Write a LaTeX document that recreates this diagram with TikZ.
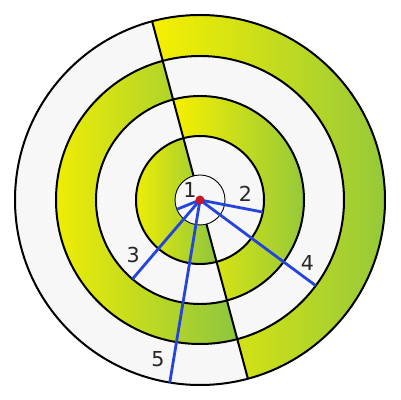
\documentclass[tikz,border=0pt]{standalone}
\usepackage{fontspec}
\setmainfont{DejaVu Sans}
\definecolor{ylw}{RGB}{247,240,0}
\definecolor{grn}{RGB}{141,198,63}
\definecolor{paper}{RGB}{247,247,247}
\definecolor{ray}{RGB}{37,68,220}
\definecolor{dot}{RGB}{200,24,36}
\begin{document}
\begin{tikzpicture}[x=0.5pt,y=0.5pt,
  band/.style={left color=ylw,right color=grn},
  ring/.style={draw=black,line width=1pt},
  thinring/.style={draw=black,line width=0.45pt},
  divider/.style={draw=black,line width=1pt},
  rayline/.style={draw=ray,line width=1.4pt},
  lbl/.style={font=\fontsize{10.3}{12}\selectfont,text=black!85,inner sep=0pt}]
\useasboundingbox (-200,-200) rectangle (200,200);
\fill[paper] (0,0) circle[radius=185];
% left half bands (105..285)
\path[band] (105:64) arc[start angle=105,end angle=285,radius=64] -- (285:25) arc[start angle=285,end angle=105,radius=25] -- cycle;
\path[band] (105:144) arc[start angle=105,end angle=285,radius=144] -- (285:104) arc[start angle=285,end angle=105,radius=104] -- cycle;
% right half bands (-75..105)
\path[band] (-75:104) arc[start angle=-75,end angle=105,radius=104] -- (105:64) arc[start angle=105,end angle=-75,radius=64] -- cycle;
\path[band] (-75:185) arc[start angle=-75,end angle=105,radius=185] -- (105:144) arc[start angle=105,end angle=-75,radius=144] -- cycle;
% circles
\draw[ring] (0,0) circle[radius=185];
\draw[ring] (0,0) circle[radius=144];
\draw[ring] (0,0) circle[radius=104];
\draw[ring] (0,0) circle[radius=64];
\draw[thinring] (0,0) circle[radius=25];
% divider
\coordinate (dta) at (105:25);
\coordinate (dtb) at (105:185);
\coordinate (dba) at (285:25);
\coordinate (dbb) at (285:185);
\draw[divider] (dta) -- (dtb);
\draw[divider] (dba) -- (dbb);
% rays
\coordinate (c) at (0,0);
\coordinate (e1) at (202:25);
\coordinate (e2) at (-10.9:64);
\coordinate (e3) at (229.5:104);
\coordinate (e4) at (-36.5:144);
\coordinate (e5) at (260.6:185);
\draw[rayline] (c) -- (e1);
\draw[rayline] (c) -- (e2);
\draw[rayline] (c) -- (e3);
\draw[rayline] (c) -- (e4);
\draw[rayline] (c) -- (e5);
\fill[dot] (c) circle[radius=4.5];
% labels
\node[lbl] (l1) at (-10,10) {1};
\node[lbl] (l2) at (45.5,6) {2};
\node[lbl] (l3) at (-66.7,-55.5) {3};
\node[lbl] (l4) at (107.3,-63.3) {4};
\node[lbl] (l5) at (-42,-159.5) {5};
\end{tikzpicture}
\end{document}
